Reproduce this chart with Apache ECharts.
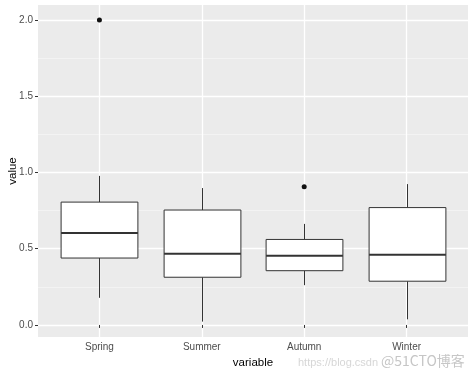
<!DOCTYPE html>
<html>
<head>
<meta charset="utf-8">
<script src="https://cdn.jsdelivr.net/npm/echarts@6/dist/echarts.min.js"></script>
<style>
html,body{margin:0;padding:0;background:#fff;}
#chart{width:474px;height:375px;}
</style>
</head>
<body>
<div id="chart"></div>
<script>
var categories = ['Spring', 'Summer', 'Autumn', 'Winter'];
// [lower whisker, Q1, median, Q3, upper whisker]
var lowValues    = [0.178, 0.022, 0.261, 0.037];
var q1Values     = [0.439, 0.313, 0.356, 0.287];
var medianValues = [0.604, 0.467, 0.454, 0.461];
var q3Values     = [0.806, 0.754, 0.561, 0.770];
var highValues   = [0.978, 0.898, 0.663, 0.924];
var outlierCategory = ['Spring', 'Autumn'];
var outlierValues   = [2.0, 0.907];
var yTicks = [0, 0.5, 1.0, 1.5, 2.0];
var yMinorTicks = [0.25, 0.75, 1.25, 1.75];

// categories placed at positions 1..n on a continuous axis (ggplot-style discrete expansion of 0.6)
var xPositions = categories.map(function (c, i) { return i + 1; });
var boxData = categories.map(function (c, i) {
  return [xPositions[i], lowValues[i], q1Values[i], medianValues[i], q3Values[i], highValues[i]];
});
var outlierData = outlierCategory.map(function (c, i) {
  return [xPositions[categories.indexOf(c)], outlierValues[i]];
});

var chart = echarts.init(document.getElementById('chart'), null, {renderer: 'canvas'});
var FONT = 'Liberation Sans, Arial, sans-serif';
var yMin = -0.079, yMax = 2.099;

chart.setOption({
  animation: false,
  backgroundColor: '#ffffff',
  grid: {left: 38, right: 6, top: 5, bottom: 38, show: true, backgroundColor: '#EBEBEB', borderWidth: 0,
    containLabel: false, outerBoundsMode: 'none'},
  xAxis: {
    type: 'value',
    min: 0.4, max: categories.length + 0.6,
    name: 'variable',
    nameLocation: 'middle',
    nameGap: 20,
    nameTextStyle: {color: '#000', fontSize: 11.5, fontFamily: FONT},
    axisLine: {show: false},
    axisTick: {show: true, length: 3, customValues: xPositions, lineStyle: {color: '#333', width: 1}},
    axisLabel: {color: '#4d4d4d', fontSize: 10, fontFamily: FONT, margin: 5, customValues: xPositions,
      formatter: function (v) { return categories[Math.round(v) - 1]; }},
    splitLine: {show: true, lineStyle: {color: '#ffffff', width: 1.3}}
  },
  yAxis: [{
    type: 'value',
    min: yMin, max: yMax,
    name: 'value',
    nameLocation: 'middle',
    nameRotate: 90,
    nameGap: 19,
    nameMoveOverlap: false,
    nameTextStyle: {color: '#000', fontSize: 11.5, fontFamily: FONT},
    axisLine: {show: false},
    axisTick: {show: true, length: 3, customValues: yTicks, lineStyle: {color: '#333', width: 1}},
    axisLabel: {color: '#4d4d4d', fontSize: 10, fontFamily: FONT, margin: 5, customValues: yTicks,
      formatter: function (v) { return v.toFixed(1); }},
    splitLine: {show: true, lineStyle: {color: '#ffffff', width: 1.3}}
  }, {
    type: 'value',
    min: yMin, max: yMax,
    position: 'left',
    axisLine: {show: false},
    axisLabel: {show: false},
    axisTick: {show: false, customValues: yMinorTicks},
    splitLine: {show: true, lineStyle: {color: '#f7f7f7', width: 0.7}}
  }],
  series: [{
    type: 'custom',
    xAxisIndex: 0,
    yAxisIndex: 0,
    data: boxData,
    encode: {x: 0, y: [1, 2, 3, 4, 5]},
    z: 5,
    renderItem: function (params, api) {
      var xi = api.value(0);
      var pLow = api.coord([xi, api.value(1)]);
      var pQ1 = api.coord([xi, api.value(2)]);
      var pMed = api.coord([xi, api.value(3)]);
      var pQ3 = api.coord([xi, api.value(4)]);
      var pHigh = api.coord([xi, api.value(5)]);
      var half = api.size([0.75, 0])[0] / 2;
      var cx = Math.round(pMed[0]) + 0.5;
      var stroke = {stroke: '#333333', lineWidth: 1};
      return {
        type: 'group',
        children: [
          {type: 'line', shape: {x1: cx, y1: pLow[1], x2: cx, y2: pQ1[1]}, style: stroke},
          {type: 'line', shape: {x1: cx, y1: pQ3[1], x2: cx, y2: pHigh[1]}, style: stroke},
          {type: 'rect', shape: {x: cx - half, y: pQ3[1], width: half * 2, height: pQ1[1] - pQ3[1]},
            style: {fill: '#ffffff', stroke: '#333333', lineWidth: 1}},
          {type: 'line', shape: {x1: cx - half, y1: pMed[1], x2: cx + half, y2: pMed[1]},
            style: {stroke: '#333333', lineWidth: 2}}
        ]
      };
    }
  }, {
    type: 'scatter',
    xAxisIndex: 0,
    yAxisIndex: 0,
    data: outlierData,
    symbol: 'circle',
    symbolSize: 5,
    z: 6,
    itemStyle: {color: '#111111', opacity: 1}
  }],
  graphic: [{
    type: 'text',
    left: 298, top: 357,
    silent: true,
    style: {text: 'https://blog.csdn', fill: 'rgba(180,180,180,0.55)', fontSize: 11, fontFamily: FONT}
  }, {
    type: 'text',
    left: 381, top: 354,
    silent: true,
    style: {text: '@51CTO博客', fill: 'rgba(160,160,160,0.6)', fontSize: 14, fontFamily: 'Noto Sans CJK SC, ' + FONT}
  }]
});
</script>
</body>
</html>
